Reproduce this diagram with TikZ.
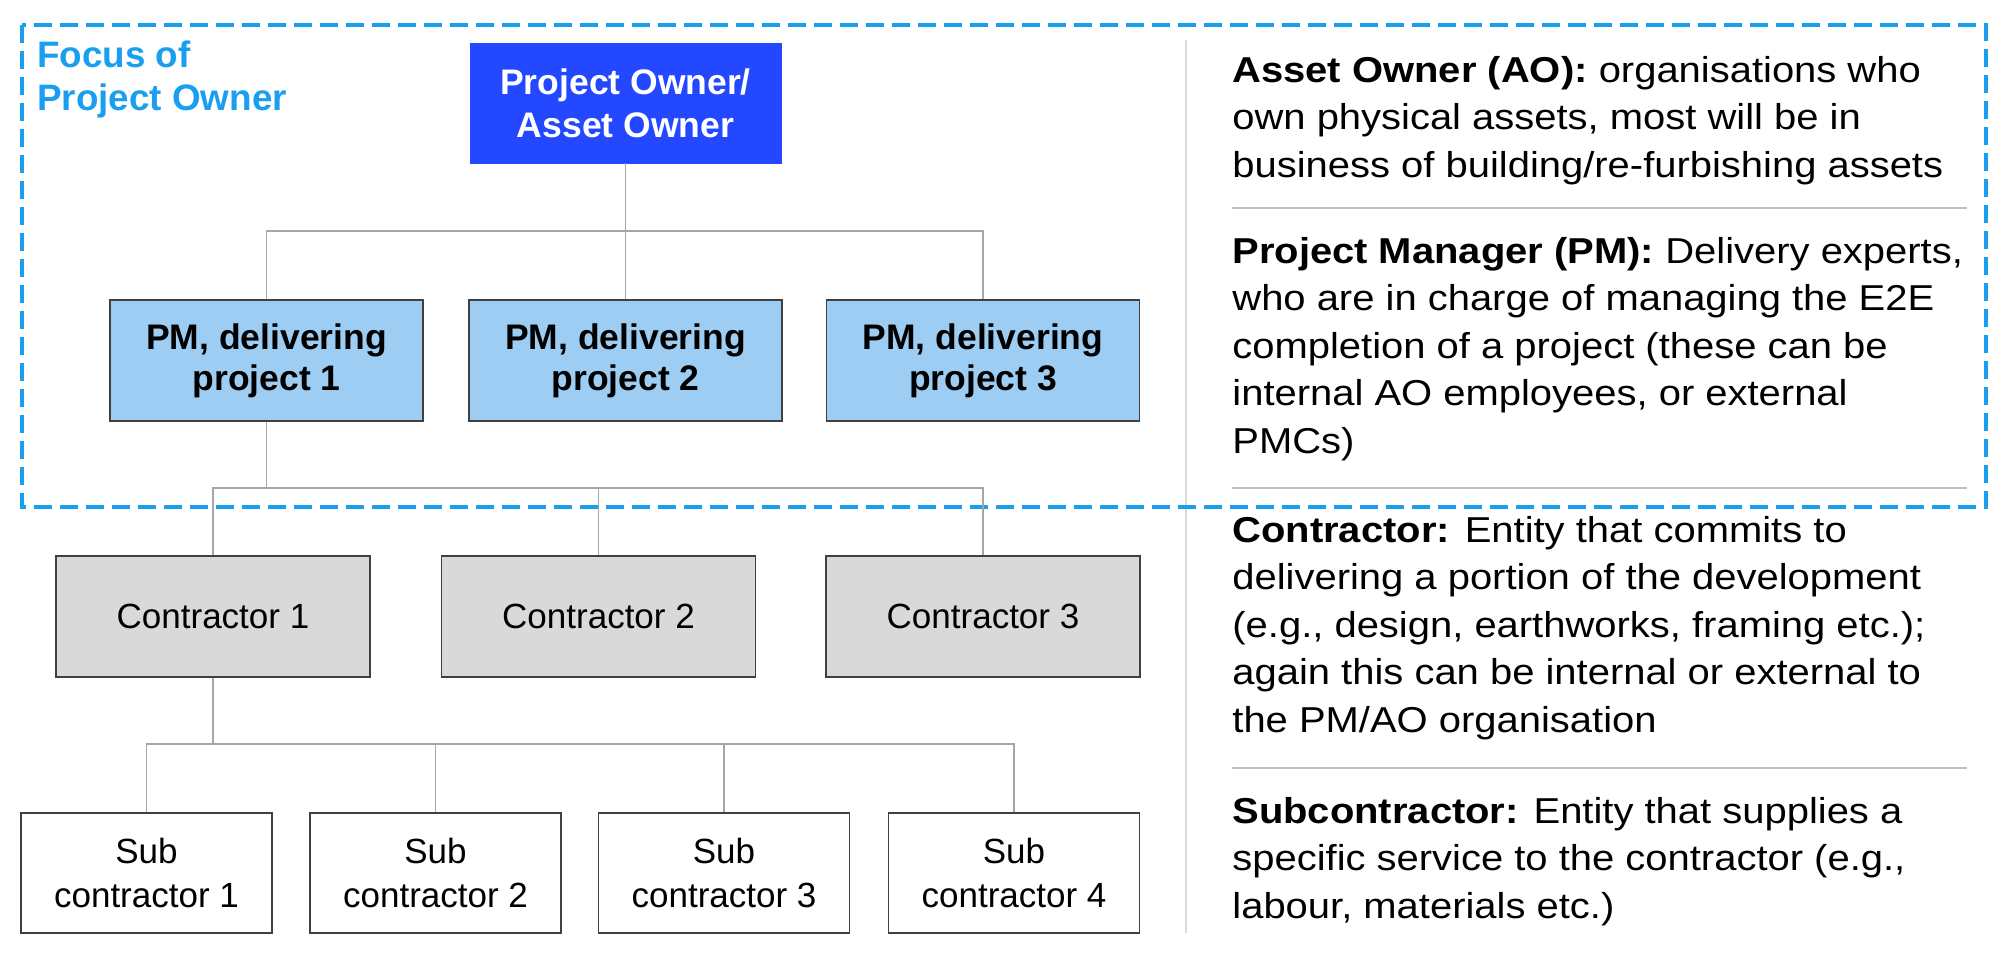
\documentclass[tikz,border=0pt]{standalone}
\usepackage{fontspec}
\setmainfont{Liberation Sans}
\newfontfamily\descfont[FakeStretch=1.11]{Liberation Sans}
\definecolor{poblue}{HTML}{2448FF}
\definecolor{pmblue}{HTML}{9DCDF2}
\definecolor{cgray}{HTML}{D9D9D9}
\definecolor{bord}{HTML}{404040}
\definecolor{focus}{HTML}{1A9FF0}
\definecolor{conn}{HTML}{A6A6A6}
\definecolor{sepgray}{HTML}{BFBFBF}
\definecolor{vgray}{HTML}{D9D9D9}
\begin{document}
\begin{tikzpicture}[x=0.5pt,y=-0.5pt,
  pobox/.style={font={\fontsize{17.75pt}{21.5pt}\selectfont\bfseries}, fill=poblue, draw=poblue, text=white, minimum width=155.5pt, minimum height=60pt, align=center, inner sep=0pt},
  pmbox/.style={font={\fontsize{17.75pt}{20.5pt}\selectfont\bfseries}, fill=pmblue, draw=bord, line width=0.9pt, minimum width=156.5pt, minimum height=60.5pt, align=center, inner sep=0pt},
  cbox/.style={font={\fontsize{17.5pt}{21pt}\selectfont}, fill=cgray, draw=bord, line width=0.9pt, minimum width=157pt, minimum height=60.5pt, align=center, inner sep=0pt},
  sbox/.style={font={\fontsize{17.5pt}{22pt}\selectfont}, fill=white, draw=bord, line width=0.9pt, minimum width=125.5pt, minimum height=60pt, align=center, inner sep=0pt},
  conline/.style={draw=conn, line width=0.8pt},
  desc/.style={font={\descfont\fontsize{18pt}{23.75pt}\selectfont}, anchor=north west, align=left, inner sep=0pt, text=black},
  sepline/.style={draw=sepgray, line width=1pt}
]
\useasboundingbox (0,0) rectangle (2000,952);

% vertical separator
\coordinate (vtop) at (1186,40);
\coordinate (vbot) at (1186,933);
\draw[draw=vgray, line width=1pt] (vtop) -- (vbot);

% dashed focus frame
\coordinate (fa) at (22,25);
\coordinate (fb) at (1986,507);
\draw[draw=focus, line width=1.6pt, dash pattern=on 9pt off 4pt] (fa) rectangle (fb);
\node[font={\fontsize{18.4pt}{21.5pt}\selectfont\bfseries}, text=focus, anchor=north west, align=left, inner sep=0pt] (focuslbl) at (37,36.9) {\strut Focus of\\Project Owner};

% nodes
\node[pobox] (po) at (625.5,103) {Project Owner/\\Asset Owner};
\node[pmbox] (pm1) at (266.5,360.5) {PM, delivering\\project 1};
\node[pmbox] (pm2) at (625.5,360.5) {PM, delivering\\project 2};
\node[pmbox] (pm3) at (983,360.5) {PM, delivering\\project 3};
\node[cbox] (c1) at (213,616.5) {Contractor 1};
\node[cbox] (c2) at (598.5,616.5) {Contractor 2};
\node[cbox] (c3) at (983,616.5) {Contractor 3};
\node[sbox] (s1) at (146.5,873) {Sub\\contractor 1};
\node[sbox] (s2) at (435.5,873) {Sub\\contractor 2};
\node[sbox] (s3) at (724,873) {Sub\\contractor 3};
\node[sbox] (s4) at (1014,873) {Sub\\contractor 4};

% connectors
\coordinate (b1) at (625.5,231);
\draw[conline] (po.south) -- (b1);
\draw[conline] (pm1.north) |- (b1) -| (pm3.north);
\draw[conline] (pm2.north) -- (b1);

\coordinate (b2) at (266.5,488);
\draw[conline] (pm1.south) -- (b2);
\draw[conline] (c1.north) |- (b2) -| (c3.north);
\draw[conline] (c2.north) -- (c2.north |- b2);

\coordinate (b3) at (213,744);
\draw[conline] (c1.south) -- (b3);
\draw[conline] (s1.north) |- (b3) -| (s4.north);
\draw[conline] (s2.north) -- (s2.north |- b3);
\draw[conline] (s3.north) -- (s3.north |- b3);

% descriptions
\node[desc] (dao) at (1232,48.75) {\strut\textbf{Asset Owner (AO):} organisations who\\own physical assets, most will be in\\business of building/re-furbishing assets};
\node[desc] (dpm) at (1232,229.75) {\strut\textbf{Project Manager (PM):} Delivery experts,\\who are in charge of managing the E2E\\completion of a project (these can be\\internal AO employees, or external\\PMCs)};
\node[desc] (dc) at (1232,508.75) {\strut\textbf{Contractor:} Entity that commits to\\delivering a portion of the development\\(e.g., design, earthworks, framing etc.);\\again this can be internal or external to\\the PM/AO organisation};
\node[desc] (ds) at (1232,789.75) {\strut\textbf{Subcontractor:} Entity that supplies a\\specific service to the contractor (e.g.,\\labour, materials etc.)};

% horizontal separators
\coordinate (h1a) at (1232,208); \coordinate (h1b) at (1967,208);
\coordinate (h2a) at (1232,488); \coordinate (h2b) at (1967,488);
\coordinate (h3a) at (1232,768); \coordinate (h3b) at (1967,768);
\draw[sepline] (h1a) -- (h1b);
\draw[sepline] (h2a) -- (h2b);
\draw[sepline] (h3a) -- (h3b);
\end{tikzpicture}
\end{document}
